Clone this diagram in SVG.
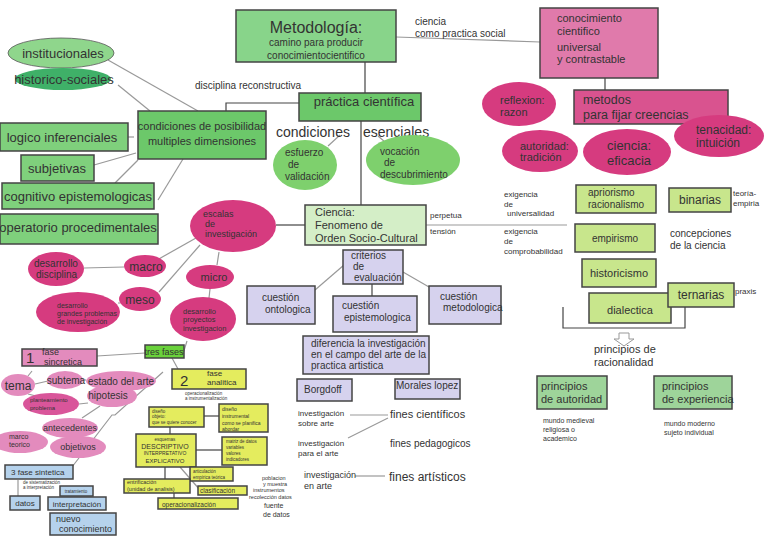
<svg xmlns="http://www.w3.org/2000/svg" width="768" height="543" viewBox="0 0 768 543">
<style>
text{font-family:"Liberation Sans",Arial,sans-serif;fill:#333}
.b{stroke:#444;stroke-width:1.5}
.g1{fill:#88d48a}.g2{fill:#6cc86a}.pk{fill:#e07aab}.mg{fill:#d63b7f}.lp{fill:#e38bbd}.dp{fill:#d9559a}
.lv{fill:#d6d2ee}.yg{fill:#c8e68c}.ye{fill:#e4ec5e}.bl{fill:#b5d2ec}
.c line,.c polyline{stroke:#999;stroke-width:1.2;fill:none}
.k{stroke:#444!important}
.m{text-anchor:middle}
</style>
<rect width="768" height="543" fill="#fff"/>
<g class="c">
<line x1="396" y1="37" x2="540" y2="42"/>
<line class="k" x1="605" y1="78" x2="605" y2="90"/>
<line class="k" x1="365" y1="62" x2="365" y2="93"/>
<polyline class="k" points="299,103 226,103 226,111"/>
<line class="k" x1="361" y1="121" x2="361" y2="205"/>
<line x1="340" y1="135" x2="328" y2="146"/>
<line x1="378" y1="136" x2="385" y2="142"/>
<line x1="108" y1="60" x2="198" y2="111"/>
<line x1="118" y1="85" x2="150" y2="111"/>
<line x1="128" y1="137" x2="134" y2="137"/>
<line x1="94" y1="165" x2="136" y2="153"/>
<line x1="115" y1="183" x2="138" y2="160"/>
<line x1="158" y1="200" x2="183" y2="159"/>
<line class="k" x1="276" y1="225" x2="305" y2="225"/>
<line x1="426" y1="225" x2="567" y2="225"/>
<line x1="196" y1="238" x2="157" y2="260"/>
<line x1="84" y1="268" x2="124" y2="267"/>
<line x1="200" y1="245" x2="159" y2="292"/>
<line x1="219" y1="252" x2="217" y2="265"/>
<line x1="118" y1="303" x2="120" y2="303"/>
<line x1="210" y1="289" x2="209" y2="298"/>
<line x1="344" y1="265" x2="315" y2="290"/>
<line class="k" x1="372" y1="284" x2="372" y2="296"/>
<line x1="403" y1="272" x2="429" y2="287"/>
<line x1="350" y1="415" x2="388" y2="415"/>
<line x1="348" y1="438" x2="388" y2="418"/>
<line x1="355" y1="476" x2="385" y2="476"/>
<polyline class="k" points="563,307 563,328 685,328 685,306"/>
<line x1="97" y1="356" x2="145" y2="353"/>
<line x1="172" y1="358" x2="178" y2="369"/>
<line x1="182" y1="357" x2="187" y2="341"/>
<polyline points="163,372 115,415 112,415 72,467"/>
<line x1="32" y1="371" x2="28" y2="376"/>
<line x1="35" y1="384" x2="48" y2="381"/>
<line x1="82" y1="380" x2="86" y2="380"/>
<line x1="88" y1="403" x2="79" y2="404"/>
<line x1="100" y1="406" x2="82" y2="418"/>
<line x1="28" y1="394" x2="40" y2="397"/>
<line x1="18" y1="480" x2="18" y2="496"/>
<line class="k" x1="204" y1="416" x2="219" y2="416"/>
<line class="k" x1="170" y1="427" x2="170" y2="434"/>
<line class="k" x1="196" y1="450" x2="222" y2="450"/>
<line class="k" x1="165" y1="467" x2="165" y2="479"/>
<line x1="180" y1="467" x2="200" y2="490"/>
<line class="k" x1="174" y1="493" x2="174" y2="498"/>
</g>
<g id="metodologia"><rect class="b g1" x="236" y="10" width="160" height="52"/>
<text class="m" x="316" y="33" font-size="16">Metodología:</text><text class="m" x="316" y="46" font-size="10">camino para producir</text><text class="m" x="316" y="59" font-size="10">conocimientocientifico</text></g>
<text x="415" y="25" font-size="10">ciencia</text><text x="415" y="37" font-size="10">como practica social</text>
<g id="conocimiento"><rect class="b pk" x="540" y="8" width="118" height="70"/>
<text x="557" y="22" font-size="11">conocimiento</text><text x="557" y="35" font-size="11">cientifico</text><text x="557" y="51" font-size="11">universal</text><text x="557" y="63" font-size="11">y contrastable</text></g>
<g id="metodos"><rect class="b" fill="#d9538f" x="574" y="90" width="154" height="34"/>
<text x="583" y="104" font-size="12.5">metodos</text><text x="583" y="119" font-size="12.5">para fijar creencias</text></g>
<g id="reflexion"><ellipse class="mg" cx="519" cy="104" rx="37" ry="22"/><text x="500" y="104" font-size="11">reflexion:</text><text x="500" y="116" font-size="11">razon</text></g>
<g id="autoridad"><ellipse class="mg" cx="540" cy="151" rx="38" ry="21"/><text x="520" y="150" font-size="11">autoridad:</text><text x="520" y="161" font-size="11">tradición</text></g>
<g id="ciencia"><ellipse class="mg" cx="627" cy="152" rx="44" ry="23"/><text x="607" y="150" font-size="13">ciencia:</text><text x="607" y="165" font-size="13">eficacia</text></g>
<g id="tenacidad"><ellipse class="mg" cx="719" cy="136" rx="45" ry="21"/><text x="696" y="134" font-size="12">tenacidad:</text><text x="696" y="147" font-size="12">intuición</text></g>
<g id="institucionales"><ellipse fill="#8fd68c" stroke="#555" stroke-width="0.8" cx="61" cy="53" rx="53" ry="15"/><text class="m" x="63" y="58" font-size="13">institucionales</text></g>
<g id="historico"><ellipse fill="#3fb068" cx="63" cy="79" rx="48" ry="11"/><text class="m" x="64" y="84" font-size="13">historico-sociales</text></g>
<g id="condiciones"><rect class="b g2" x="138" y="111" width="128" height="48"/><text class="m" x="202" y="130" font-size="11">condiciones de posibilidad</text><text class="m" x="202" y="145" font-size="11">multiples dimensiones</text></g>
<g id="logico"><rect class="b" fill="#7fd07c" x="0" y="123" width="128" height="28"/><text class="m" x="62" y="142" font-size="13">logico inferenciales</text></g>
<g id="subjetivas"><rect class="b" fill="#7fd07c" x="21" y="155" width="73" height="26"/><text class="m" x="57" y="173" font-size="13">subjetivas</text></g>
<g id="cognitivo"><rect class="b" fill="#7fd07c" x="2" y="183" width="152" height="26"/><text class="m" x="78" y="201" font-size="13">cognitivo epistemologicas</text></g>
<g id="operatorio"><rect class="b" fill="#7fd07c" x="0" y="214" width="158" height="30"/><text class="m" x="78" y="232" font-size="13">operatorio procedimentales</text></g>
<text x="195" y="89" font-size="10">disciplina reconstructiva</text>
<g id="practica"><rect class="b g2" x="299" y="93" width="122" height="28"/><text class="m" x="364" y="106" font-size="13">práctica científica</text></g>
<text x="276" y="137" font-size="14">condiciones</text><text x="363" y="137" font-size="14">esenciales</text>
<g id="esfuerzo"><ellipse fill="#7ed06d" cx="305" cy="165" rx="32" ry="25"/><text x="285" y="156" font-size="10">esfuerzo</text><text x="288" y="168" font-size="10">de</text><text x="285" y="180" font-size="10">validación</text></g>
<g id="vocacion"><ellipse fill="#7ed06d" cx="413" cy="160" rx="47" ry="25"/><text x="380" y="155" font-size="10">vocación</text><text x="384" y="166" font-size="10">de</text><text x="380" y="178" font-size="10">descubrimiento</text></g>
<g id="cienciaSC"><rect class="b" fill="#d4eec7" x="305" y="205" width="121" height="40"/><text x="315" y="216" font-size="11">Ciencia:</text><text x="315" y="229" font-size="11">Fenomeno de</text><text x="315" y="242" font-size="11">Orden Socio-Cultural</text></g>
<text x="430" y="218" font-size="8">perpetua</text><text x="430" y="234" font-size="8">tensión</text>
<g font-size="8"><text x="504" y="197">exigencia</text><text x="504" y="207">de</text><text x="507" y="216">universalidad</text><text x="504" y="234">exigencia</text><text x="504" y="244">de</text><text x="504" y="254">comprobabilidad</text></g>
<g id="escalas"><ellipse class="mg" cx="233" cy="226" rx="43" ry="26"/><text x="203" y="217" font-size="9">escalas</text><text x="205" y="227" font-size="9">de</text><text x="205" y="237" font-size="9">investigación</text></g>
<g id="macro"><ellipse class="mg" cx="145" cy="266" rx="21" ry="11"/><text class="m" x="146" y="271" font-size="12">macro</text></g>
<g id="desdisc"><ellipse class="mg" cx="56" cy="269" rx="28" ry="17"/><text x="34" y="267" font-size="10">desarrollo</text><text x="36" y="278" font-size="10">disciplina</text></g>
<g id="micro"><ellipse class="mg" cx="210" cy="277" rx="24" ry="12"/><text class="m" x="214" y="281" font-size="11">micro</text></g>
<g id="meso"><ellipse class="mg" cx="140" cy="299" rx="21" ry="12"/><text class="m" x="140" y="304" font-size="12">meso</text></g>
<g id="desgrandes"><ellipse class="mg" cx="78" cy="312" rx="42" ry="20"/><text x="57" y="308" font-size="7">desarrollo</text><text x="57" y="316" font-size="7">grandes problemas</text><text x="57" y="324" font-size="7">de investigación</text></g>
<g id="desproy"><ellipse class="mg" cx="203" cy="319" rx="33" ry="22"/><text x="183" y="314" font-size="7.5">desarrollo</text><text x="183" y="322" font-size="7.5">proyectos</text><text x="183" y="331" font-size="7.5">investigacion</text></g>
<g id="criterios"><rect class="b lv" x="343" y="250" width="60" height="34"/><text x="351" y="259" font-size="10">criterios</text><text x="353" y="270" font-size="10">de</text><text x="354" y="281" font-size="10">evaluación</text></g>
<g id="ontologica"><rect class="b lv" x="247" y="286" width="68" height="38"/><text x="262" y="301" font-size="10">cuestión</text><text x="265" y="313" font-size="10">ontologica</text></g>
<g id="epistemologica"><rect class="b lv" x="333" y="296" width="84" height="36"/><text x="342" y="309" font-size="10">cuestión</text><text x="344" y="321" font-size="10">epistemologica</text></g>
<g id="metodologica"><rect class="b lv" x="429" y="286" width="72" height="38"/><text x="440" y="300" font-size="10">cuestión</text><text x="443" y="311" font-size="10">metodologica</text></g>
<g id="diferencia"><rect class="b lv" x="303" y="336" width="126" height="38"/><text x="311" y="347" font-size="10">diferencia la investigación</text><text x="311" y="358" font-size="10">en el campo del arte de la</text><text x="311" y="369" font-size="10">practica artistica</text></g>
<g id="borgdoff"><rect class="b lv" x="297" y="379" width="55" height="22"/><text x="304" y="393" font-size="10">Borgdoff</text></g>
<g id="morales"><rect class="b lv" x="395" y="379" width="65" height="20"/><text x="396" y="389" font-size="10">Morales lopez</text></g>
<text x="298" y="416" font-size="8">investigación</text><text x="298" y="426" font-size="8">sobre arte</text>
<text x="390" y="418" font-size="11">fines científicos</text>
<text x="298" y="446" font-size="8">investigación</text><text x="298" y="456" font-size="8">para el arte</text>
<text x="390" y="447" font-size="10">fines pedagogicos</text>
<text x="304" y="478" font-size="9">investigación</text><text x="304" y="489" font-size="9">en arte</text>
<text x="389" y="481" font-size="12">fines artísticos</text>
<g id="apriorismo"><rect class="b yg" x="576" y="185" width="80" height="28"/><text x="588" y="196" font-size="10">apriorismo</text><text x="588" y="208" font-size="10">racionalismo</text></g>
<g id="binarias"><rect class="b yg" x="669" y="188" width="62" height="24"/><text class="m" x="700" y="204" font-size="12">binarias</text></g>
<text x="733" y="196" font-size="8">teoría-</text><text x="733" y="206" font-size="8">empiria</text>
<g id="empirismo"><rect class="b yg" x="575" y="224" width="80" height="28"/><text class="m" x="615" y="242" font-size="10">empirismo</text></g>
<text x="670" y="237" font-size="10">concepciones</text><text x="670" y="249" font-size="10">de la ciencia</text>
<g id="historicismo"><rect class="b yg" x="582" y="259" width="74" height="28"/><text class="m" x="619" y="277" font-size="11">historicismo</text></g>
<g id="dialectica"><rect class="b yg" x="589" y="293" width="82" height="30"/><text class="m" x="630" y="314" font-size="11">dialectica</text></g>
<g id="ternarias"><rect class="b yg" x="668" y="283" width="66" height="24"/><text class="m" x="701" y="299" font-size="12">ternarias</text></g>
<text x="735" y="294" font-size="8">praxis</text>
<path d="M619,333 h10 v6 h5 l-10,7 l-10,-7 h5 z" fill="#fff" stroke="#999"/>
<text x="594" y="353" font-size="11">principios de</text><text x="594" y="366" font-size="11">racionalidad</text>
<g id="pautoridad"><rect class="b" fill="#9ed49a" x="537" y="376" width="70" height="33"/><text x="541" y="390" font-size="11">principios</text><text x="541" y="403" font-size="11">de autoridad</text></g>
<g id="pexperiencia"><rect class="b" fill="#9ed49a" x="654" y="376" width="78" height="33"/><text x="662" y="390" font-size="11">principios</text><text x="662" y="403" font-size="11">de experiencia</text></g>
<text x="543" y="423" font-size="7">mundo medieval</text><text x="543" y="432" font-size="7">religiosa o</text><text x="543" y="441" font-size="7">academico</text>
<text x="664" y="426" font-size="7">mundo moderno</text><text x="664" y="435" font-size="7">sujeto individual</text>
<g id="fase1"><rect class="b lp" x="22" y="349" width="75" height="17"/><text x="26" y="363" font-size="15">1</text><text x="42" y="355" font-size="9">fase</text><text x="44" y="365" font-size="9">sincretica</text></g>
<g id="tresfases"><rect class="b" fill="#6ad23b" x="145" y="345" width="39" height="13"/><text class="m" x="164" y="355" font-size="9">tres fases</text></g>
<g id="fase2"><rect class="b ye" x="172" y="369" width="74" height="20"/><text x="180" y="386" font-size="15">2</text><text x="207" y="376" font-size="8">fase</text><text x="207" y="385" font-size="8">analitica</text></g>
<text x="185" y="395" font-size="4.5">operacionalización</text><text x="185" y="400" font-size="4.5">a instrumentalización</text>
<g id="tema"><ellipse class="lp" cx="18" cy="385" rx="17" ry="11"/><text class="m" x="18" y="390" font-size="12">tema</text></g>
<g id="subtema"><ellipse class="lp" cx="65" cy="380" rx="18" ry="9"/><text class="m" x="66" y="384" font-size="10">subtema</text></g>
<g id="estado"><ellipse class="lp" cx="121" cy="381" rx="35" ry="10"/><text class="m" x="121" y="385" font-size="10">estado del arte</text></g>
<g id="planteamiento"><ellipse class="dp" cx="51" cy="404" rx="28" ry="11"/><text x="30" y="402" font-size="6">planteamiento</text><text x="30" y="410" font-size="6">problema</text></g>
<g id="hipotesis"><ellipse class="lp" cx="112" cy="396" rx="25" ry="11"/><text class="m" x="108" y="399" font-size="10">hipotesis</text></g>
<g id="antecedentes"><ellipse class="lp" cx="70" cy="428" rx="28" ry="10"/><text class="m" x="70" y="431" font-size="9">antecedentes</text></g>
<g id="marco"><ellipse class="lp" cx="20" cy="442" rx="28" ry="11"/><text x="9" y="439" font-size="7">marco</text><text x="9" y="447" font-size="7">teorico</text></g>
<g id="objetivos"><ellipse class="lp" cx="78" cy="447" rx="28" ry="11"/><text class="m" x="78" y="450" font-size="9">objetivos</text></g>
<g id="fase3"><rect class="b bl" x="5" y="465" width="68" height="14"/><text x="11" y="475" font-size="8">3 fase sintetica</text></g>
<text x="23" y="484" font-size="4.5">de sistematización</text><text x="23" y="489" font-size="4.5">a interpretación</text>
<g id="datos"><rect class="b bl" x="10" y="496" width="30" height="14"/><text class="m" x="25" y="506" font-size="8">datos</text></g>
<g id="tratamiento"><rect class="b bl" x="60" y="486" width="33" height="10"/><text class="m" x="76" y="493" font-size="4.5">tratamiento</text></g>
<g id="interpretacion"><rect class="b bl" x="48" y="497" width="58" height="13"/><text class="m" x="77" y="507" font-size="8">interpretación</text></g>
<g id="nuevo"><rect class="b bl" x="50" y="513" width="66" height="22"/><text x="56" y="522" font-size="9">nuevo</text><text x="59" y="532" font-size="9">conocimiento</text></g>
<g id="disenoobj"><rect class="b ye" x="149" y="407" width="55" height="20"/><text x="152" y="413" font-size="4.5">diseño</text><text x="152" y="418" font-size="4.5">objeto:</text><text x="152" y="424" font-size="4.5">que se quiere conocer</text></g>
<g id="disenoinst"><rect class="b ye" x="219" y="404" width="49" height="28"/><text x="222" y="411" font-size="5">diseño</text><text x="222" y="418" font-size="5">instrumental</text><text x="222" y="425" font-size="5">como se planifica</text><text x="222" y="431" font-size="5">abordar</text></g>
<g id="esquemas"><rect class="b ye" x="136" y="434" width="60" height="33"/><text class="m" x="165" y="441" font-size="4.5">esquemas</text><text class="m" x="165" y="449" font-size="7">DESCRIPTIVO</text><text class="m" x="165" y="455" font-size="5">INTERPRETATIVO</text><text class="m" x="165" y="463" font-size="6">EXPLICATIVO</text></g>
<g id="matriz"><rect class="b ye" x="222" y="437" width="45" height="28"/><text x="226" y="443" font-size="4.5">matriz de datos</text><text x="226" y="449" font-size="4.5">variables</text><text x="226" y="455" font-size="4.5">valores</text><text x="226" y="461" font-size="4.5">indicadores</text></g>
<g id="articulacion"><rect class="b ye" x="190" y="467" width="43" height="14"/><text x="193" y="473" font-size="4.5">articulación</text><text x="193" y="479" font-size="4.5">empírica teórica</text></g>
<g id="entrificacion"><rect class="b ye" x="124" y="479" width="66" height="14"/><text x="127" y="484" font-size="5.5">entrificación</text><text x="127" y="491" font-size="5.5">(unidad de analisis)</text></g>
<g id="clasificacion"><rect class="b ye" x="198" y="486" width="49" height="9"/><text x="200" y="493" font-size="6.5">clasificación</text></g>
<g id="operacionalizacion"><rect class="b ye" x="158" y="498" width="80" height="11"/><text x="162" y="507" font-size="6.5">operacionalización</text></g>
<g font-size="5.5"><text x="262" y="480">poblacion</text><text x="263" y="486">y muestra</text><text x="253" y="492">instrumentos</text><text x="249" y="499">recolección datos</text></g>
<text x="264" y="508" font-size="7">fuente</text><text x="263" y="517" font-size="7">de datos</text>
</svg>
